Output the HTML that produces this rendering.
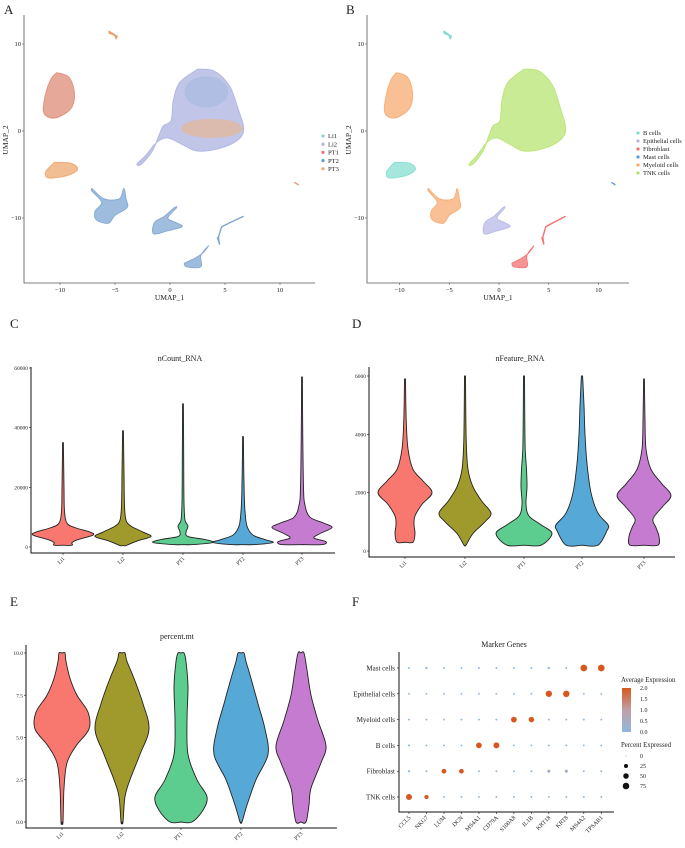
<!DOCTYPE html>
<html><head><meta charset="utf-8"><style>
html,body{margin:0;padding:0;background:#fff}
svg{display:block;font-family:"Liberation Serif",serif}
</style></head><body>
<svg id="fig" width="685" height="848" viewBox="0 0 685 848"></svg>
<script>
// ---------- UMAP data ----------
const clusterNames=["TNK cells","Myeloid cells","B cells","Myeloid cells","Epithelial cells","Fibroblast"];
const clusterPolys=[
 [[2.5,7.1],[4,6.9],[5.4,5.2],[6.2,2.5],[6.7,0.3],[6.2,-1],[4.5,-2],[2.5,-2.3],[1.2,-1.6],[-0.2,-0.8],[-1.2,-1.3],[-2.2,-2.8],[-3,-3.8],[-2.6,-3.8],[-1.6,-2.3],[-1.0,-0.5],[-0.6,0.6],[0.1,1.2],[0.3,3.5],[0.9,5.6]],
 [[-10.3,6.7],[-9.2,6.2],[-8.7,4.5],[-8.9,2.8],[-9.8,1.8],[-10.8,1.5],[-11.5,2.2],[-11.3,4.3],[-10.8,6]],
 [[-10.5,-3.6],[-9,-3.7],[-8.4,-4.4],[-9.3,-5.1],[-11,-5.4],[-11.3,-4.7]],
 [[-7.1,-6.6],[-6,-7.8],[-4.6,-7.8],[-4.2,-6.6],[-4.0,-7.8],[-3.9,-8.8],[-5,-9.7],[-5.6,-10.6],[-6.7,-10.2],[-6.8,-9.2],[-6.2,-8.2],[-7.1,-6.9]],
 [[0.4,-8.8],[-0.5,-9.8],[-1.4,-10.5],[-1.5,-11.8],[-0.3,-11.5],[1.1,-11],[0.5,-10.5],[-0.2,-10],[0.6,-8.8]],
 [[1.3,-15.2],[2.3,-14.6],[3,-14],[3.5,-13.2],[2.8,-14.3],[2.8,-15.6],[1.5,-15.6]]
];
const colorsA=["#b2b8e2","#e0947f","#eeac78","#86acd6","#88acd6","#86acd6"];
const colorsB=["#bde67a","#f8b07a","#8ee0d4","#f8b07a","#bbbde9","#f47a7a"];
const stripNames=["fibroblast-strip","b-cells-strip","mast-strip"];
const strips=[[[4.3,-12.2],[4.5,-13],[4.4,-12.2],[4.7,-11],[5.5,-10.5],[6.7,-9.8]],[[-5.6,11.5],[-4.8,10.9],[-4.9,10.6],[-5.0,11.0],[-5.6,11.3]],[[11.3,-5.9],[11.7,-6.2]]];
const stripColA=["#7ea6d2","#e8a070","#e89070"];
const stripColB=["#f47070","#7fdccf","#5b9bd5"];
const legendA=["Li1","Li2","PT1","PT2","PT3"];
const legendAcol=["#7fdcc8","#b4b0e4","#f47070","#5b9bd5","#f7aa6c"];
const legendB=["B cells","Epithelial cells","Fibroblast","Mast cells","Myeloid cells","TNK cells"];
const legendBcol=["#7fdccf","#b4b6e6","#f47070","#5b9bd5","#f7aa6c","#b5e36a"];
const umapXTicks=[-10,-5,0,5,10];
const umapYTicks=[-10,0,10];
// ---------- violin data ----------
const groups=["Li1","Li2","PT1","PT2","PT3"];
const groupCol=["#f8786f","#9f9a2b","#5ccc8f","#56a9d6","#c57cd0"];
const countTicks=[0,20000,40000,60000];
const countViol=[
 [[600,0],[600,9],[1500,9],[2500,15],[4000,30],[5000,27],[6500,12],[8000,4],[12000,1.5],[20000,1],[35000,0.4]],
 [[500,0],[500,3],[2000,14],[3500,28],[5000,20],[7000,8],[9000,3],[14000,1.5],[25000,1],[39000,0.4]],
 [[800,0],[800,10],[1500,30],[2500,22],[3500,5],[5000,3],[7000,5],[9000,2],[15000,1],[30000,0.7],[48000,0.4]],
 [[800,0],[800,12],[1500,30],[2500,22],[4000,10],[7000,4],[12000,2],[18000,1.2],[30000,0.6],[37000,0.4]],
 [[800,0],[800,20],[1800,24],[3000,12],[4500,18],[6500,30],[8000,22],[10000,8],[14000,3],[20000,1.5],[40000,0.7],[57000,0.4]]
];
const featTicks=[0,2000,4000,6000];
const featViol=[
 [[300,0],[300,8],[600,10],[900,9],[1200,10],[1600,17],[2000,27],[2400,18],[2800,8],[3500,3],[4500,1.2],[5900,0.5]],
 [[200,0],[200,1],[600,8],[1000,20],[1300,26],[1700,17],[2200,8],[2800,3],[3800,1.2],[6000,0.5]],
 [[200,0],[200,17],[600,28],[900,17],[1200,5],[1600,2],[2200,3],[2800,2.5],[3500,1.2],[4500,0.8],[6000,0.5]],
 [[200,0],[200,16],[700,25],[900,26],[1300,16],[2000,9],[3000,5],[4000,3],[5000,2],[6000,0.6]],
 [[200,0],[200,14],[500,15],[800,12],[1100,9],[1500,18],[1900,27],[2300,18],[2800,7],[3500,2],[4500,1],[5900,0.4]]
];
const mtTicks=[0,2.5,5,7.5,10];
const mtViol=[
 [[0,0],[0,1],[2,2],[3.5,5],[4.5,14],[5.5,27],[6.5,26],[7.5,15],[8.5,8],[9.5,4],[10,3],[10,0]],
 [[0,0],[0,1],[1.5,3],[2.5,8],[4,18],[5.5,27],[7,21],[8.5,12],[9.5,5],[10,3],[10,0]],
 [[0,0],[0,11],[0.7,22],[1.5,26],[2.5,16],[4,7],[6,6],[8,7],[9.5,5],[10,3],[10,0]],
 [[0,0],[0,1],[1,6],[2.5,15],[4,27],[5.5,24],[7,17],[8.5,10],[9.5,5],[10,3],[10,0]],
 [[0,0],[0,5],[1,8],[2,10],[3.5,20],[4.5,25],[6,17],[7.5,10],[9,6],[10,3],[10,0]]
];
// ---------- dot plot data ----------
const genes=["CCL5","NKG7","LUM","DCN","MS4A1","CD79A","S100A8","IL1B","KRT18","KRT8","MS4A2","TPSAB1"];
const cellTypes=["TNK cells","Fibroblast","B cells","Myeloid cells","Epithelial cells","Mast cells"];
const avgExp=[
 [2,2,0,0,0,0,0,0,0,0,0,0],
 [0,0,2,2,0,0,0,0,0.4,0.4,0,0],
 [0,0,0,0,2,2,0,0,0,0,0,0],
 [0,0,0,0,0,0,2,2,0,0,0,0],
 [0,0,0,0,0,0,0,0,2,2,0,0],
 [0,0.1,0,0,0,0,0,0,0.1,0,2,2]
];
const pctExp=[
 [60,28,3,3,3,3,3,3,3,3,3,3],
 [5,3,35,35,3,3,3,3,12,12,3,3],
 [4,3,3,3,55,60,3,3,3,3,3,3],
 [3,3,3,3,3,3,55,50,3,3,3,3],
 [3,3,3,3,3,3,3,3,70,72,3,3],
 [3,6,3,3,3,3,3,3,6,3,80,80]
];
const expTicks=[0,0.5,1,1.5,2];
const pctTicks=[0,25,50,75];

const NS="http://www.w3.org/2000/svg";
const svg=document.getElementById('fig');
function el(tag,attrs,parent,text){const e=document.createElementNS(NS,tag);for(const k in attrs)e.setAttribute(k,attrs[k]);if(text!==undefined)e.textContent=text;(parent||svg).appendChild(e);return e;}
function lbl(x,y,t,size,anchor,name,extra){const e=el('text',Object.assign({x:x,y:y,'font-size':size,'text-anchor':anchor||'start',fill:'#222'},extra||{}),svg,t);


return e;}
function smooth(P){let d='';for(let i=0;i<P.length-1;i++){const p0=P[Math.max(0,i-1)],p1=P[i],p2=P[i+1],p3=P[Math.min(P.length-1,i+2)];
 const c1=[p1[0]+(p2[0]-p0[0])/6,p1[1]+(p2[1]-p0[1])/6],c2=[p2[0]-(p3[0]-p1[0])/6,p2[1]-(p3[1]-p1[1])/6];
 d+=`C${c1[0].toFixed(2)},${c1[1].toFixed(2)} ${c2[0].toFixed(2)},${c2[1].toFixed(2)} ${p2[0].toFixed(2)},${p2[1].toFixed(2)}`;}return d;}

[["A",4,14],["B",346,14],["C",10,328],["D",352,328],["E",10,606],["F",352,606]].forEach(p=>{lbl(p[1],p[2],p[0],13,'start','panel-label-'+p[0].toLowerCase());});

// ---------- UMAP panels ----------
function umap(key,x0,sx,axL,axR,cols,scols,legNames,legCols,legX,legY0,legStep){
 const ux=u=>x0+sx*u, uy=v=>131-8.7*v;
 clusterPolys.forEach((poly,i)=>{
  const P=poly.map(q=>[ux(q[0]),uy(q[1])]);P.push(P[0]);
  const p=el('path',{d:`M${P[0][0]},${P[0][1]}`+smooth(P)+'Z',fill:cols[i],'fill-opacity':0.8,stroke:cols[i],'stroke-width':1,'stroke-linejoin':'round'});
  
  
 });
 if(key==='umap-a'){
  const o=el('ellipse',{cx:ux(3.8),cy:uy(0.3),rx:sx*2.8,ry:8.7*1.1,fill:'#f0b27e','fill-opacity':0.55});
  
  
  const q=el('ellipse',{cx:ux(3.3),cy:uy(4.5),rx:sx*2,ry:8.7*1.8,fill:'#8eb0d8','fill-opacity':0.35});
  
  
 }
 strips.forEach((s,i)=>{
  const p=el('polyline',{points:s.map(q=>ux(q[0])+','+uy(q[1])).join(' '),fill:'none',stroke:scols[i],'stroke-width':1.4,'stroke-linejoin':'round'});
  
  
 });
 const ax=el('path',{d:`M${axL},15V283H${axR}`,fill:'none',stroke:'#555','stroke-width':0.8});
 
 
 umapXTicks.forEach(t=>{el('line',{x1:ux(t),x2:ux(t),y1:283,y2:285,stroke:'#555','stroke-width':0.6});lbl(ux(t),292,t<0?'\u2212'+(-t):String(t),6.5,'middle',key+'-x-tick');});
 umapYTicks.forEach(t=>{el('line',{x1:axL-2,x2:axL,y1:uy(t),y2:uy(t),stroke:'#555','stroke-width':0.6});lbl(axL-3,uy(t)+2,t<0?'\u2212'+(-t):String(t),6.5,'end',key+'-y-tick');});
 lbl((axL+axR)/2,300,'UMAP_1',7.5,'middle',key+'-x-title');
 lbl(axL-16,140,'UMAP_2',7.5,'middle',key+'-y-title',{transform:`rotate(-90 ${axL-16} 140)`});
 legNames.forEach((n,i)=>{
  const y=legY0+i*legStep;
  const c=el('circle',{cx:legX,cy:y,r:1.6,fill:legCols[i]});
  
  
  lbl(legX+5,y+2.2,n,6.5,'start',key+'-legend-entry');
 });
}
umap('umap-a',170,11,24,315,colorsA,stripColA,legendA,legendAcol,323,136,8.2);
umap('umap-b',499,9.95,367,629,colorsB,stripColB,legendB,legendBcol,638,133,8);

// ---------- violins ----------
function violin(key,title,data,ticks,tmax,axX,yTop,y0,yMax,axR,cxs,titleX,titleY,fmt){
 const vy=v=>y0-(y0-yMax)*v/tmax;
 const ax=el('path',{d:`M${axX},${yTop}V${y0+6}H${axR}`,fill:'none',stroke:'#111','stroke-width':1});
 
 
 lbl(titleX,titleY,title,8,'middle',key+'-title');
 ticks.forEach(t=>{el('line',{x1:axX-2,x2:axX,y1:vy(t),y2:vy(t),stroke:'#111','stroke-width':0.6});lbl(axX-3,vy(t)+2,fmt(t),5.5,'end',key+'-y-tick');});
 data.forEach((pts,i)=>{
  const cx=cxs[i];
  const R=pts.map(p=>[cx+p[1],vy(p[0])]);
  const L=pts.slice().reverse().map(p=>[cx-p[1],vy(p[0])]);
  const d=`M${R[0][0]},${R[0][1]}`+smooth(R)+`L${L[0][0]},${L[0][1]}`+smooth(L)+'Z';
  const v=el('path',{d:d,fill:groupCol[i],stroke:'#222','stroke-width':0.9,'stroke-linejoin':'round'});
  
  
  el('line',{x1:cx,x2:cx,y1:y0+6,y2:y0+8,stroke:'#111','stroke-width':0.6});
  lbl(cx+2,y0+12,groups[i],5.5,'end',key+'-x-tick',{transform:`rotate(-45 ${cx+2} ${y0+12})`});
 });
}
violin('ncount','nCount_RNA',countViol,countTicks,60000,31,367,547,368,335,[63,123,183,243,302],180,361,t=>String(t));
violin('nfeature','nFeature_RNA',featViol,featTicks,6000,369,367,551,376,675,[405,465,524,582,644],520,361,t=>String(t));
violin('percent-mt','percent.mt',mtViol,mtTicks,10,26,645,822,653,337,[62,122,181,241,301],177,639,t=>t.toFixed(1));

// ---------- dot plot ----------
const colX=i=>409+17.48*i;
const rowY=j=>797-25.8*j;
const rad=p=>Math.sqrt(p/100)*3.4+0.35;
function expColor(v){const t=Math.max(0,Math.min(1,v/2));const a=[143,184,222],m=[190,160,165],b=[214,88,30];
 let c; if(t<0.5){const s=t/0.5;c=a.map((x,k)=>x+(m[k]-x)*s);}else{const s=(t-0.5)/0.5;c=m.map((x,k)=>x+(b[k]-x)*s);} return `rgb(${c.map(Math.round).join(',')})`;}
const dax=el('path',{d:'M399,652V812H614',fill:'none',stroke:'#111','stroke-width':1});


lbl(504,647,'Marker Genes',8,'middle','dotplot-title');
cellTypes.forEach((c,j)=>{el('line',{x1:397,x2:399,y1:rowY(j),y2:rowY(j),stroke:'#111','stroke-width':0.6});lbl(395,rowY(j)+2.5,c,7,'end','dotplot-y-tick');});
genes.forEach((g,i)=>{el('line',{x1:colX(i),x2:colX(i),y1:812,y2:814,stroke:'#111','stroke-width':0.6});lbl(colX(i)+2,818,g,6,'end','dotplot-x-tick',{transform:`rotate(-45 ${colX(i)+2} 818)`});});
avgExp.forEach((row,j)=>row.forEach((v,i)=>{
 const d=el('circle',{cx:colX(i),cy:rowY(j),r:rad(pctExp[j][i]),fill:expColor(v)});
 
 
}));
lbl(621,682,'Average Expression',6.8,'start','avg-expression-legend-title');
const defs=el('defs',{});
const lg=el('linearGradient',{id:'eg',x1:0,y1:1,x2:0,y2:0},defs);
expTicks.forEach(t=>el('stop',{offset:(t/2),'stop-color':expColor(t)},lg));
const cb=el('rect',{x:622,y:688,width:9,height:44,fill:'url(#eg)'});


expTicks.forEach(t=>{const y=732-44*t/2;lbl(640,y+2,t.toFixed(1),6,'start','colorbar-tick');});
lbl(621,747,'Percent Expressed',6.8,'start','pct-expressed-legend-title');
pctTicks.forEach((p,k)=>{const y=756+10*k;
 const c=el('circle',{cx:626,cy:y,r:rad(p),fill:'#111'});
 
 
 lbl(640,y+2,String(p),6,'start','pct-legend-label');});
</script>
</body></html>
